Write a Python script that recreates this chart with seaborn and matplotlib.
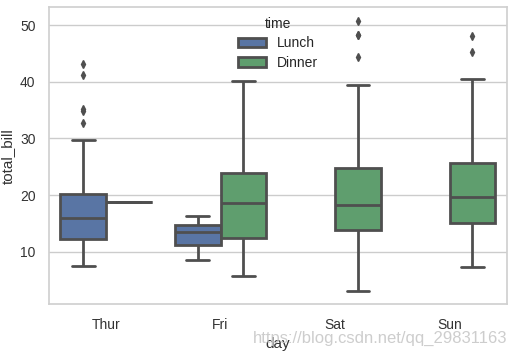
import numpy as np
import pandas as pd
import seaborn as sns
import matplotlib
matplotlib.use("Agg")
import matplotlib.pyplot as plt

# Box summary statistics (total_bill by day and time)
days = ["Thur", "Fri", "Sat", "Sun"]
times = ["Lunch", "Dinner"]
groups = [("Thur", "Lunch"), ("Thur", "Dinner"), ("Fri", "Lunch"), ("Fri", "Dinner"),
          ("Sat", "Dinner"), ("Sun", "Dinner")]
lows = [7.51, 18.78, 8.58, 5.75, 3.07, 7.25]
q1s = [12.3, 18.78, 11.1, 12.4, 13.9, 14.99]
medians = [16.0, 18.78, 13.42, 18.67, 18.24, 19.63]
q3s = [20.2, 18.78, 14.7, 23.9, 24.74, 25.6]
highs = [29.8, 18.78, 16.27, 40.17, 39.42, 40.55]
outliers = [[32.68, 34.83, 35.26, 41.19, 43.11], [], [], [], [44.3, 48.27, 48.33, 50.81], [45.35, 48.17]]

# Build long-form sample whose quartiles, whiskers and outliers match the summaries
rows = []
for (d, t), lo, a, m, b, hi, outs in zip(groups, lows, q1s, medians, q3s, highs, outliers):
    if lo == hi:
        vals = [m]
    else:
        vals = [lo] + [a] * 10 + [m] * 10 + [b] * 10 + [hi] + list(outs)
    rows += [(d, t, v) for v in vals]
tips = pd.DataFrame(rows, columns=["day", "time", "total_bill"])
tips["day"] = pd.Categorical(tips["day"], categories=days, ordered=True)

sns.set_theme(style="whitegrid")
plt.rcParams["font.family"] = ["Liberation Sans", "DejaVu Sans"]

fig, ax = plt.subplots(figsize=(5.13, 3.56), dpi=100)
sns.boxplot(data=tips, x="day", y="total_bill", hue="time", order=days, hue_order=times,
            palette=sns.color_palette("deep6", 2), linewidth=2, linecolor="#4f4f4f",
            flierprops=dict(marker="d", markersize=4, markerfacecolor="#4f4f4f",
                            markeredgecolor="#4f4f4f"), ax=ax)
ax.set_yticks([10, 20, 30, 40, 50])
ax.tick_params(labelsize=10, colors="#333333")
ax.set_xlabel("day", fontsize=11, color="#333333")
ax.set_ylabel("total_bill", fontsize=11, color="#333333")
leg = ax.legend(title="time", loc="upper center", frameon=False, fontsize=10, title_fontsize=10,
                borderaxespad=0.3, labelspacing=0.4)
for sp in ax.spines.values():
    sp.set_color("#d0d0d0")
fig.subplots_adjust(left=0.095, right=0.988, top=0.98, bottom=0.145)
fig.text(0.99, 0.05, "https://blog.csdn.net/qq_29831163", ha="right", va="center",
         fontsize=12, color="#c8c8c8", alpha=0.9)
fig.savefig("out.png", dpi=100)
